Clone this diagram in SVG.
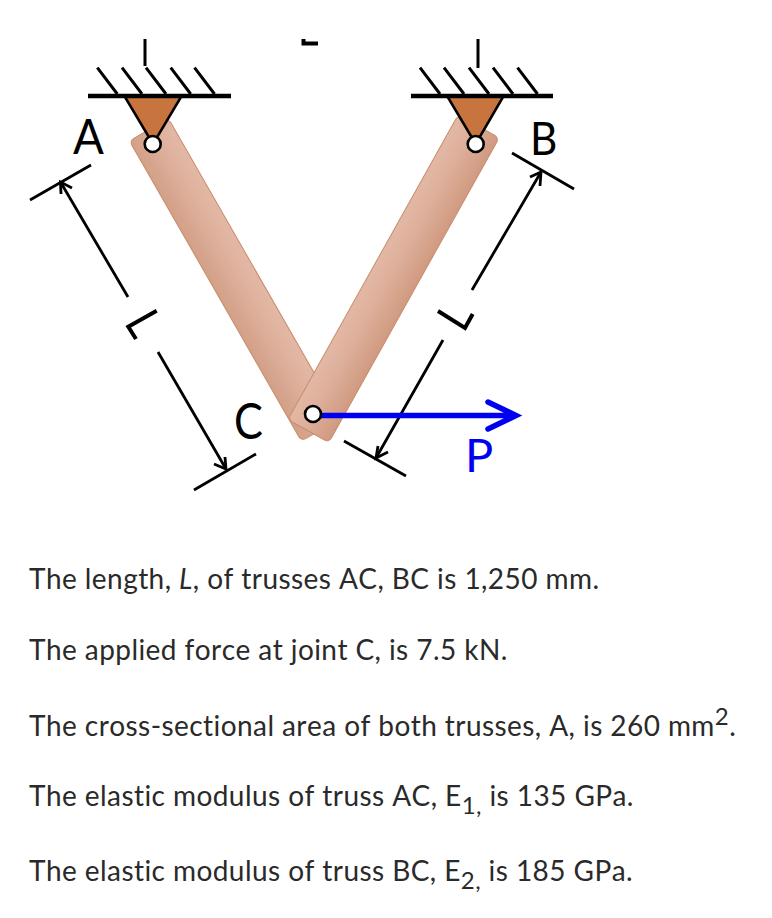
<svg xmlns="http://www.w3.org/2000/svg" width="772" height="918" viewBox="0 0 772 918">
<style>
.ln{stroke:#000;fill:none;stroke-width:2.8;stroke-linecap:butt}
.hatch{stroke:#000;fill:none;stroke-width:3}
.base{stroke:#000;stroke-width:4.5}
.tri{fill:#c8743f;stroke:none}
.triedge{stroke:#000;stroke-width:2.5;fill:none}
.pin{fill:#fff;stroke:#000;stroke-width:2.6}
.bar{stroke:#c98d6c;stroke-width:1}
.lbl{font-family:Lato,"Open Sans",sans-serif;font-size:47px;fill:#000}
.t{font-family:Lato,"Liberation Sans",sans-serif;font-size:28px;fill:#2a2a2a;font-variant-ligatures:none;font-kerning:none;letter-spacing:.43px}
.arrow{stroke:#0000f0;stroke-width:5.5;fill:none;stroke-linecap:round}
</style>
<defs>
<linearGradient id="bargl" x1="0" y1="0" x2="0" y2="1">
<stop offset="0" stop-color="#e2b8a5"/><stop offset="0.35" stop-color="#dfb29e"/><stop offset="1" stop-color="#d39f87"/>
</linearGradient>
<linearGradient id="bargr" x1="0" y1="0" x2="0" y2="1">
<stop offset="0" stop-color="#d09a80"/><stop offset="0.65" stop-color="#dfb19d"/><stop offset="1" stop-color="#e2b8a5"/>
</linearGradient>
</defs>
<g id="bar-ac"><rect class="bar" fill="url(#bargl)" x="-131" y="-22.500" width="346" height="45" rx="5" transform="translate(214 243.300) rotate(60.200)"/></g>
<g id="bar-bc"><rect class="bar" fill="url(#bargr)" x="-134" y="-23.500" width="349" height="47" rx="5" transform="translate(413.300 243.300) rotate(119.200)"/></g>
<g id="support-a">
<path class="tri" d="M125 97H181L153 144Z"/><path class="triedge" d="M125 97L153 144L181 97"/>
<path class="base" d="M88 96H231"/>
<path class="hatch" d="M97.300 67.700L117.300 94M122 67.700L142 94M146 67.700L166 94M170.700 67.700L190.700 94M194.500 67.700L214.500 94M145 39V66"/>
<circle class="pin" cx="152.700" cy="144" r="8"/>
</g>
<g id="support-b">
<path class="tri" d="M447.700 97H503L475.700 144Z"/><path class="triedge" d="M447.700 97L475.700 144L503 97"/>
<path class="base" d="M411 96H553"/>
<path class="hatch" d="M420 67.700L440 94M444 67.700L464 94M469 67.700L489 94M493 67.700L513 94M517.500 67.700L537.500 94M478 39V68"/>
<circle class="pin" cx="475.700" cy="144" r="8"/>
</g>
<g id="connectors">
<path class="ln" d="M30 200L91 165M60.500 182L128 297M158 352L226 469M194 490L256 454"/>
<path class="ln" d="M512 153L574 189M541 172L472 290M443 340L376 458M344 441L406 476"/>
<path class="ln" d="M61 194L60.500 182L72 188M214 464L226 469L225 457M530 177L541 172L540 186M378 446L376 458L388 452"/>
<path class="arrow" d="M320 415.500H515M488 402L516 415.500L488 429"/>
</g>
<g id="joint-c"><circle class="pin" cx="313" cy="414" r="8"/></g>
<g id="labels">
<text class="lbl" transform="translate(73 154) scale(.97 1.04)">A</text>
<text class="lbl" transform="translate(530 155) scale(.9 1)">B</text>
<text class="lbl" transform="translate(234 439) scale(.92 1.05)">C</text>
<text class="lbl" x="465" y="472" style="fill:#0000f0">P</text>
<path d="M156.700 310.700L128.300 326.700L136 339" fill="none" stroke="#000" stroke-width="4"/>
<path d="M438 311L465 328L472.700 314" fill="none" stroke="#000" stroke-width="4"/>
<path d="M303.500 39V43.500H318" fill="none" stroke="#000" stroke-width="4"/>
</g>
<g id="text">
<text class="t" x="29" y="589">The length, <tspan font-style="italic">L</tspan>, of trusses AC, BC is 1,250 mm.</text>
<text class="t" x="29" y="660">The applied force at joint C, is 7.5 kN.</text>
<text class="t" x="29" y="736">The cross-sectional area of both trusses, A, is 260 mm<tspan dy="-11" font-size="24">2</tspan><tspan dy="11">.</tspan></text>
<text class="t" x="29" y="806">The elastic modulus of truss AC, E<tspan dy="8" font-size="24">1,</tspan><tspan dy="-8"> is 135 GPa.</tspan></text>
<text class="t" x="29" y="881">The elastic modulus of truss BC, E<tspan dy="8" font-size="24">2,</tspan><tspan dy="-8"> is 185 GPa.</tspan></text>
</g>
</svg>
